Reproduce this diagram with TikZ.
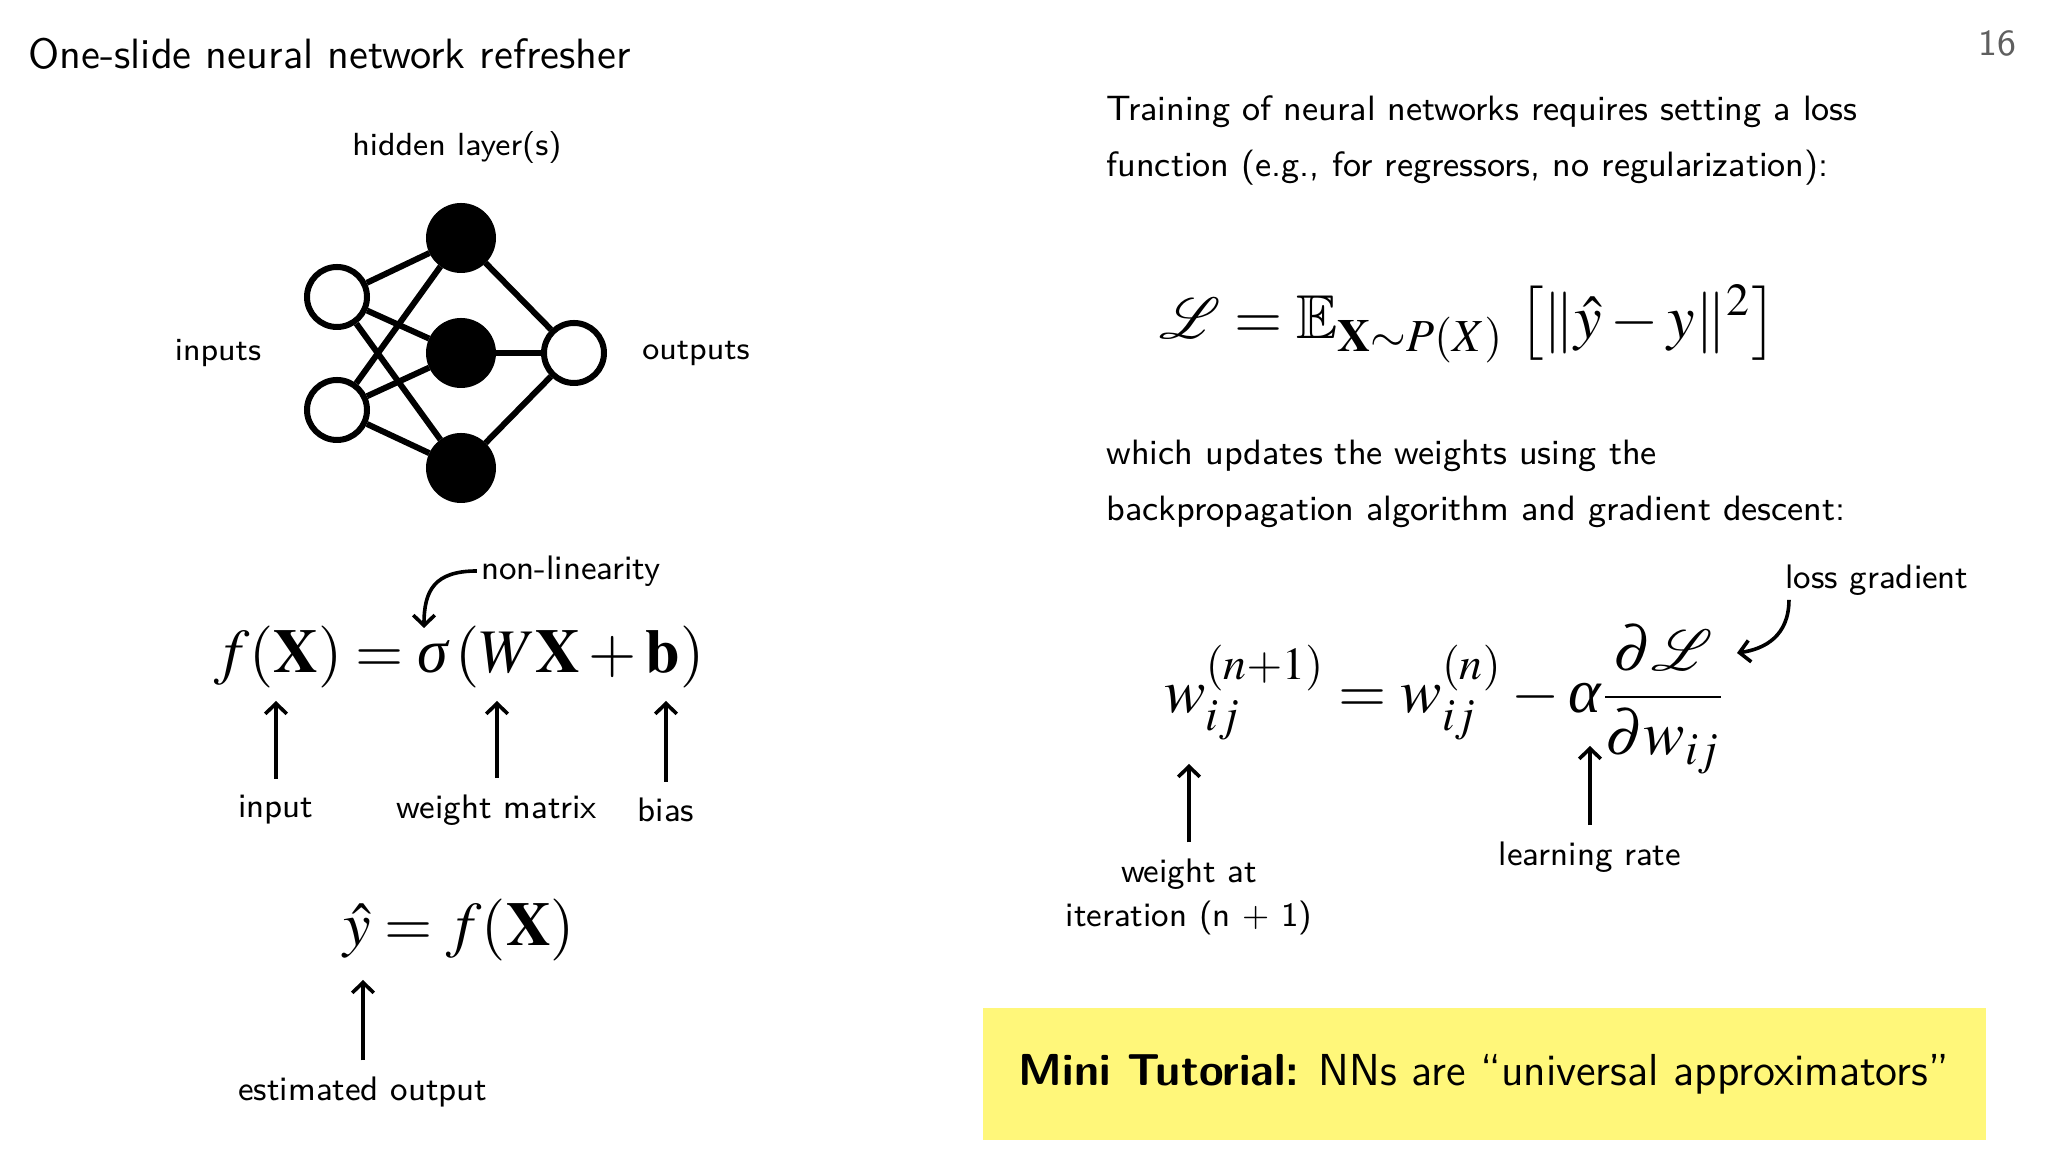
\documentclass[tikz,border=0pt]{standalone}
\usepackage{amsmath}
\usepackage{mathptmx}
\usepackage{amssymb}
\usepackage{mathrsfs}
\usepackage[no-math]{fontspec}
\usepackage{xcolor}
\usetikzlibrary{arrows.meta}
\renewcommand{\familydefault}{\sfdefault}
\newfontfamily\timesserif{Liberation Serif}
\definecolor{tutorialyellow}{RGB}{255,247,122}
\definecolor{pagegray}{RGB}{95,95,95}
\newcommand{\bX}{\mathbf{X}}
\newcommand{\Lscr}{\mathscr{L}}
\newcommand{\gsigma}{\mathord{\text{\timesserif\itshape σ}}}
\newcommand{\galpha}{\mathord{\text{\timesserif\itshape α}}}
\tikzset{every picture/.style={line width=0.75pt}}
\tikzset{
inneuron/.style={circle, draw, line width=1.5pt, fill=white, minimum size=15pt, inner sep=0pt},
hidneuron/.style={circle, draw, line width=1.5pt, fill=black, minimum size=16pt, inner sep=0pt},
synapse/.style={line width=1.5pt},
pointer/.style={-{Straight Barb[length=2.6pt,width=5.4pt]}, line width=0.9pt},
titletxt/.style={font=\fontsize{10.6}{13}\selectfont, inner sep=0.75pt},
bodytxt/.style={font=\fontsize{8.8}{14}\selectfont, inner sep=0.75pt, align=left},
labeltxt/.style={font=\fontsize{8.5}{11}\selectfont, inner sep=0.75pt, align=center},
nettxt/.style={font=\fontsize{8}{10}\selectfont, inner sep=0.75pt},
eqtxt/.style={font=\fontsize{15.5}{19}\selectfont, inner sep=0.75pt}
}

\begin{document}
\begin{tikzpicture}[x=0.25pt,y=0.25pt,yscale=-1,xscale=1]
\useasboundingbox (0,0) rectangle (2048,1152);

% Title and page number
\node[titletxt, anchor=west] (title) at (24,54) {One-slide neural network refresher};
\node[nettxt, text=pagegray, font=\fontsize{9.2}{11}\selectfont] (pagenum) at (1997,43) {16};

% Network
\node[nettxt] (hiddenlbl) at (457,148) {hidden layer(s)};
\node[nettxt] (inputslbl) at (218,353) {inputs};
\node[nettxt] (outputslbl) at (696,353) {outputs};
\node[inneuron] (in1) at (337,297) {};
\node[inneuron] (in2) at (337,410) {};
\node[hidneuron] (h1) at (461,238) {};
\node[hidneuron] (h2) at (461,353) {};
\node[hidneuron] (h3) at (461,468) {};
\node[inneuron] (out) at (574,353) {};
\foreach \i in {in1,in2}
  \foreach \h in {h1,h2,h3}
    \draw[synapse] (\i) -- (\h);
\foreach \h in {h1,h2,h3}
  \draw[synapse] (\h) -- (out);

% Model equation
\node[eqtxt] (modeleq) at (459,657) {$f(\bX) = \gsigma\,(W\bX + \mathbf{b})$};
\node[labeltxt] (nonlinlbl) at (571,571) {non-linearity};
\coordinate (sigmatip) at (424,628);
\draw[pointer] (nonlinlbl.west) .. controls +(-42,0) and +(0,-38) .. (sigmatip);
\node[labeltxt] (inputlbl) at (276,810) {input};
\node[labeltxt] (weightlbl) at (497,810) {weight matrix};
\node[labeltxt] (biaslbl) at (666,810) {bias};
\coordinate (inputtip) at (276,701);
\coordinate (weighttip) at (497,701);
\coordinate (biastip) at (666,701);
\draw[pointer, shorten <=3pt] (inputlbl) -- (inputtip);
\draw[pointer, shorten <=3pt] (weightlbl) -- (weighttip);
\draw[pointer, shorten <=3pt] (biaslbl) -- (biastip);

% Estimate
\node[eqtxt] (estimeq) at (459,930) {$\hat{y} = f(\bX)$};
\node[labeltxt] (estimlbl) at (363,1092) {estimated output};
\coordinate (estimtip) at (363,980);
\draw[pointer, shorten <=3pt] (estimlbl) -- (estimtip);

% Loss
\node[bodytxt, anchor=west] (lossintro) at (1102,140) {Training of neural networks requires setting a loss\\function (e.g., for regressors, no regularization):};
\node[eqtxt] (losseq) at (1468,324) {$\Lscr = \mathbb{E}_{\bX\sim P(X)}\,\left[\|\hat{y}-y\|^2\right]$};

% Update rule
\node[bodytxt, anchor=west] (updateintro) at (1102,484) {which updates the weights using the\\backpropagation algorithm and gradient descent:};
\node[eqtxt] (updateeq) at (1445,699) {$\displaystyle w_{ij}^{(n+1)} = w_{ij}^{(n)} - \galpha\frac{\partial\Lscr}{\partial w_{ij}}$};
\node[labeltxt] (gradlbl) at (1877,580) {loss gradient};
\coordinate (gradtip) at (1737,653);
\draw[pointer] ([xshift=2pt]gradlbl.south west) .. controls +(0,36) and +(28,-4) .. (gradtip);
\node[labeltxt] (iterlbl) at (1189,897) {weight at\\iteration (n + 1)};
\coordinate (itertip) at (1189,764);
\draw[pointer, shorten <=3pt] (iterlbl) -- (itertip);
\node[labeltxt] (ratelbl) at (1590,857) {learning rate};
\coordinate (ratetip) at (1590,746);
\draw[pointer, shorten <=3pt] (ratelbl) -- (ratetip);

% Tutorial box
\node[fill=tutorialyellow, minimum width=250.75pt, minimum height=33pt, inner sep=0pt,
  font=\fontsize{11.2}{14}\selectfont] (tutorial) at (1484,1074)
  {\textbf{Mini Tutorial:} NNs are “universal approximators”};
\end{tikzpicture}
\end{document}
